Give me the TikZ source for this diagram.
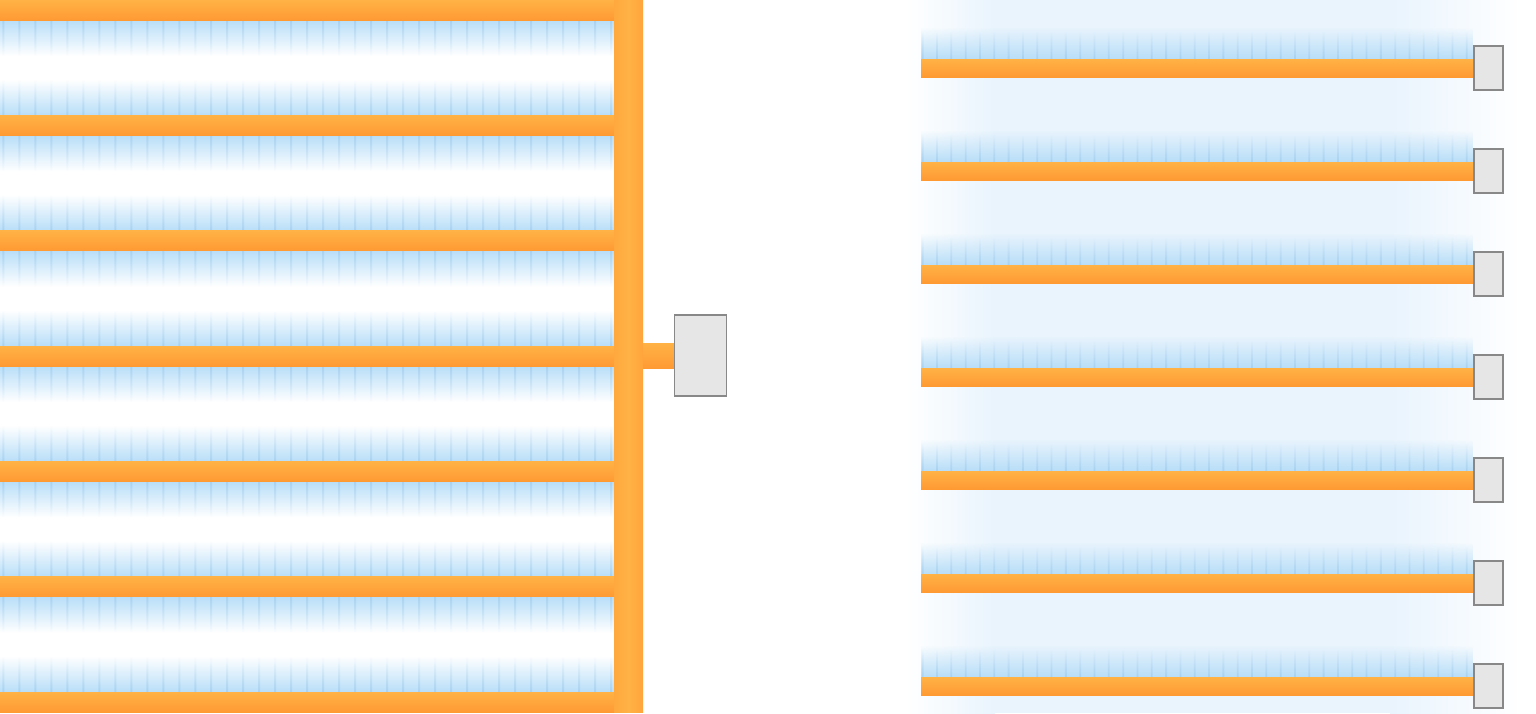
\documentclass[tikz,border=0pt]{standalone}
\usetikzlibrary{fadings,calc}
\definecolor{orT}{HTML}{FFB245}
\definecolor{orB}{HTML}{FF9A33}
\definecolor{bandblue}{HTML}{B8DEF8}
\definecolor{stripecol}{HTML}{8FC0E6}
\definecolor{panelbg}{HTML}{E9F4FD}
\definecolor{boxfill}{HTML}{E6E6E6}
\definecolor{boxdraw}{HTML}{888888}
\pgfdeclarelayer{bg}
\pgfsetlayers{bg,main}
\begin{document}
\begin{tikzpicture}[x=1pt,y=-1pt,
  orbar/.style={top color=orT,bottom color=orB},
  orvbar/.style={left color=orT!60!orB,right color=orT!40!orB,middle color=orT},
  stripes/.style={stripecol,opacity=0.4},
  bigbox/.style={draw=boxdraw,line width=1.3pt,fill=boxfill,minimum width=52pt,minimum height=81pt,inner sep=0pt},
  smallbox/.style={draw=boxdraw,line width=1.2pt,fill=boxfill,minimum width=29pt,minimum height=44pt,inner sep=0pt}]
\useasboundingbox (0,0) rectangle (1536,713);
% nodes
\node[bigbox] (L) at (700.5,355.5) {};
\foreach \k in {0,...,6}{
  \node[smallbox] (R\k) at (1488.5,{68+103*\k}) {};
}
\coordinate (hub) at (643,356);
\begin{pgfonlayer}{bg}
% right panel background
\shade[left color=white,right color=panelbg] (905,0) rectangle (995,713);
\fill[panelbg] (994.5,0) rectangle (1390.5,713);
\shade[left color=panelbg,right color=white] (1390,0) rectangle (1522,713);
% left panel bands
\foreach \k in {0,...,5}{
  \pgfmathsetmacro{\ya}{20+115.333*\k}
  \pgfmathsetmacro{\yb}{115.333*(\k+1)}
  \shade[top color=bandblue,bottom color=white] (0,\ya) rectangle (614,\ya+36);
  \shade[top color=white,bottom color=bandblue] (0,\yb-36) rectangle (614,\yb);
  \fill[stripes,path fading=south] \foreach \i in {0,...,38}{ ({2.5+16*\i},\ya) rectangle ({4.5+16*\i},\ya+36) };
  \fill[stripes,path fading=north] \foreach \i in {0,...,38}{ ({2.5+16*\i},\yb-36) rectangle ({4.5+16*\i},\yb) };
}
% left horizontal bars
\foreach \k in {0,...,6}{
  \pgfmathsetmacro{\ya}{115.333*\k}
  \shade[orbar] (0,\ya) rectangle (614,\ya+20);
}
% vertical collector
\shade[orvbar] (614,0) rectangle (643,712.5);
% connector to box
\shade[orbar] ($(hub)+(0,-13)$) rectangle ($(L.west)+(0,13)$);
% right bands and bars
\foreach \k in {0,...,6}{
  \pgfmathsetmacro{\yt}{59+103*\k}
  \fill[bandblue,path fading=north] (921,\yt-32) rectangle (1473,\yt);
  \fill[stripes,path fading=north] \foreach \i in {0,...,38}{ ({922+14.33*\i},\yt-28) rectangle ({923.8+14.33*\i},\yt) };
  \shade[orbar] (921,\yt) rectangle ($(R\k.west)+(0,9)$);
}
\end{pgfonlayer}
\end{tikzpicture}
\end{document}
